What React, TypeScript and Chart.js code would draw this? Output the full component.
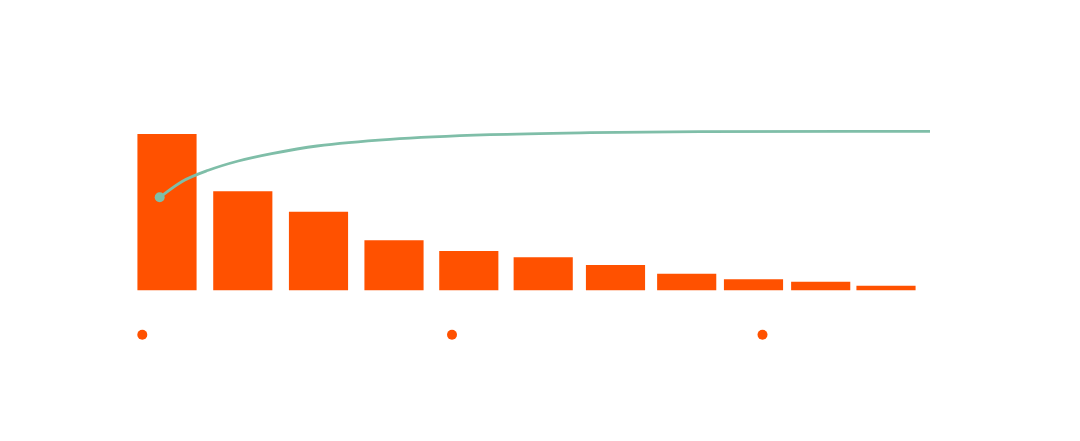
import { useEffect, useRef } from 'react';
import { Chart, registerables } from 'chart.js';

Chart.register(...registerables);

// x positions (axis units) and heights of the bars
const barX = [3.7, 11.28, 18.85, 26.4, 33.88, 41.32, 48.55, 55.67, 62.35, 69.07, 75.6];
const barValues = [155.7, 98.5, 78, 49.5, 38.7, 32.3, 24.7, 16, 10.3, 8, 4];

// cumulative curve
const curveX = [2.97, 5.17, 7.83, 10.83, 14.17, 18.7, 26, 36, 46, 57, 80];
const curveValues = [92.7, 108.3, 119.7, 129, 136.3, 144, 150.7, 155.3, 157.3, 158.3, 158.7];

// marker dots under the axis
const markerX = [1.23, 32.2, 63.25];
const markerValues = [-44.7, -44.7, -44.7];

const ORANGE = '#ff5100';
const GREEN = '#7fbea8';

export default function App() {
    const chartRef = useRef<HTMLCanvasElement>(null);

    useEffect(() => {
        if (!chartRef.current) return;

        const chart = new Chart(chartRef.current, {
            type: 'bar',
            data: {
                datasets: [
                    {
                        type: 'line',
                        data: curveX.map((x, i) => ({ x, y: curveValues[i] })),
                        borderColor: GREEN,
                        backgroundColor: GREEN,
                        borderWidth: 2.8,
                        cubicInterpolationMode: 'monotone',
                        pointRadius: curveX.map((_, i) => (i === 0 ? 5 : 0)),
                        pointBorderWidth: 0,
                        pointBackgroundColor: GREEN,
                        fill: false,
                        order: 0,
                    },
                    {
                        type: 'bar',
                        data: barX.map((x, i) => ({ x, y: barValues[i] })),
                        backgroundColor: ORANGE,
                        barThickness: 58.5,
                        borderWidth: 0,
                        order: 1,
                    },
                    {
                        type: 'scatter',
                        data: markerX.map((x, i) => ({ x, y: markerValues[i] })),
                        backgroundColor: ORANGE,
                        pointRadius: 5,
                        pointBorderWidth: 0,
                        order: 2,
                    },
                ],
            },
            options: {
                animation: false,
                responsive: true,
                maintainAspectRatio: false,
                layout: { padding: { left: 130, right: 150, top: 40, bottom: 61 } },
                plugins: {
                    legend: { display: false },
                    tooltip: { enabled: false },
                },
                scales: {
                    x: { type: 'linear', min: 0, max: 80, offset: false, display: false },
                    y: { type: 'linear', min: -90, max: 250, display: false },
                },
            },
        });

        return () => { chart.destroy(); };
    }, []);

    return (
        <div style={{ position: 'fixed', left: 0, top: 0, width: 1080, height: 441, background: '#fff' }}>
            <canvas ref={chartRef}></canvas>
        </div>
    );
}
